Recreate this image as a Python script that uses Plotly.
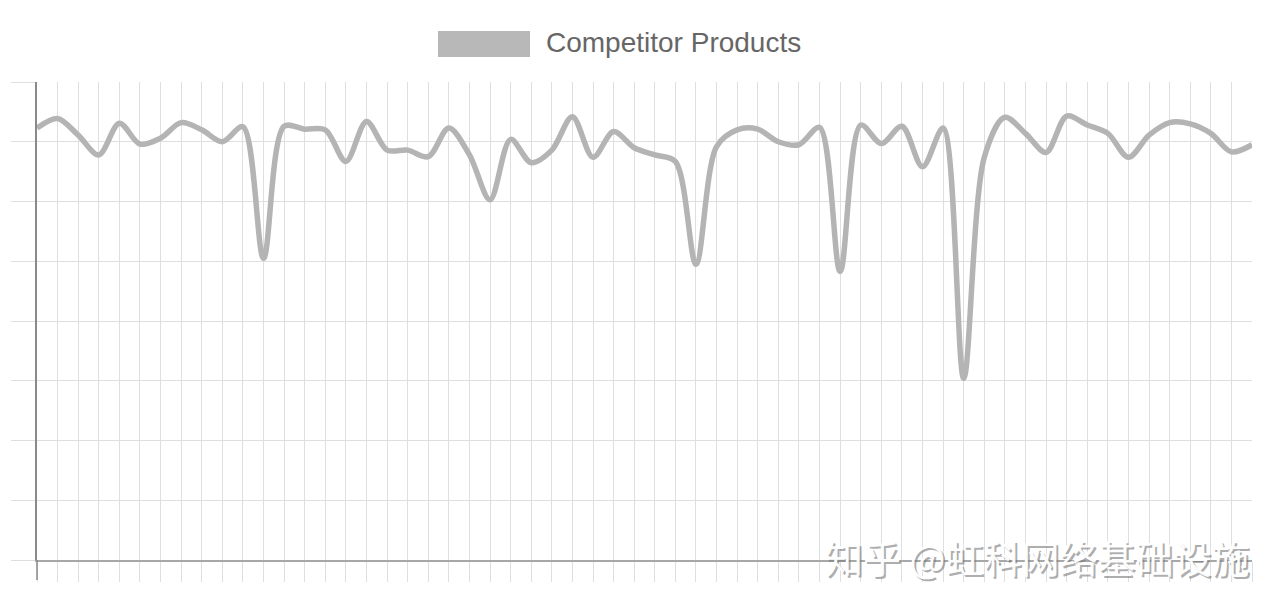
import plotly.graph_objects as go

# ---- data ----
series_name = "Competitor Products"
x_index = list(range(60))
values = [72.3, 73.9, 71.1, 67.8, 73.1, 69.6, 70.6, 73.2, 72.0, 70.0,
          72.5, 50.5, 72.6, 72.1, 72.0, 66.7, 73.4, 68.6, 68.6, 67.5,
          72.3, 67.8, 60.3, 70.4, 66.5, 68.6, 74.2, 67.4, 71.7, 69.0,
          67.8, 66.7, 49.5, 69.2, 72.0, 72.1, 70.0, 69.5, 72.4, 48.3,
          72.8, 69.7, 72.6, 65.8, 72.3, 30.4, 67.4, 74.1, 71.4, 68.2,
          74.3, 72.8, 71.4, 67.4, 71.1, 73.2, 73.0, 71.4, 68.3, 69.5]
y_ticks = [0, 10, 20, 30, 40, 50, 60, 70, 80]
watermark = "知乎 @虹科网络基础设施"

LINE = "#b4b4b4"
GRID = "#dfdfdf"

fig = go.Figure()
fig.add_trace(go.Scatter(
    x=x_index, y=values, mode="lines", name=series_name,
    line=dict(color=LINE, width=5.5, shape="spline", smoothing=0.9),
    cliponaxis=False, showlegend=False, hoverinfo="skip",
))

OFF = 8  # page body margin
W, H = 1280 - OFF, 607 - OFF
# plot area in page pixels: x 37..1252, y 82..560
PL, PR, PT, PB = 37, 1252, 82, 560
L, T = PL - OFF, PT - OFF
R = (OFF + W) - PR
B = (OFF + H) - PB
pw, ph = PR - PL, PB - PT

def px(x):
    return (x - PL) / pw

def py(y):
    return (PB - y) / ph

fig.update_layout(
    width=W, height=H,
    margin=dict(l=L, r=R, t=T, b=B, autoexpand=False),
    paper_bgcolor="white", plot_bgcolor="white",
    xaxis=dict(range=[0, len(x_index) - 1], tickmode="array", tickvals=x_index,
               showticklabels=False, showgrid=True, gridcolor=GRID, gridwidth=1,
               ticks="outside", ticklen=20, tickcolor=GRID, tickwidth=1, automargin=False,
               showline=True, linecolor="#a8a8a8", linewidth=1.5, zeroline=False),
    yaxis=dict(range=[0, 80], tickmode="array", tickvals=y_ticks,
               showticklabels=False, showgrid=True, gridcolor=GRID, gridwidth=1,
               ticks="outside", ticklen=24, tickcolor=GRID, tickwidth=1, automargin=False,
               showline=True, linecolor="#8a8a8a", linewidth=1.5, zeroline=False),
    shapes=[
        dict(type="rect", xref="paper", yref="paper",
             x0=px(438), x1=px(530), y0=py(57), y1=py(31),
             fillcolor="#b8b8b8", line=dict(width=0)),
        dict(type="line", xref="paper", yref="paper",
             x0=0, x1=0, y0=0, y1=py(580),
             line=dict(color="#8a8a8a", width=1.5)),
    ],
    annotations=[
        dict(text=series_name, xref="paper", yref="paper", x=px(544), y=py(42),
             xanchor="left", yanchor="middle", showarrow=False,
             font=dict(family="Liberation Sans, Arial, sans-serif", size=28, color="#666666")),
        dict(text=watermark, xref="paper", yref="paper", x=px(1251) + 2 / pw, y=py(556) - 2 / ph,
             xanchor="right", yanchor="middle", showarrow=False,
             font=dict(family="Noto Sans CJK SC", size=38, color="rgba(120,120,120,0.6)")),
        dict(text=watermark, xref="paper", yref="paper", x=px(1251), y=py(556),
             xanchor="right", yanchor="middle", showarrow=False,
             font=dict(family="Noto Sans CJK SC", size=38, color="rgba(255,255,255,0.97)")),
    ],
)

fig.write_html("out.html")
